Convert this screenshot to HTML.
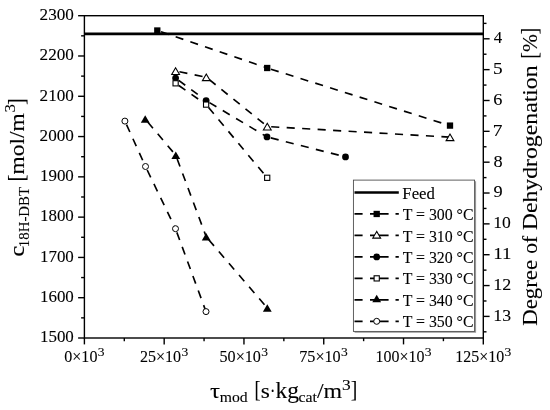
<!DOCTYPE html>
<html lang="en"><head><meta charset="utf-8"><title>Chart</title>
<style>html,body{margin:0;padding:0;background:#fff;}body{width:550px;height:410px;overflow:hidden;}svg{display:block;}text{font-family:"Liberation Serif", serif;fill:#000;stroke:#000;stroke-width:0.1;}</style>
</head><body>
<svg width="550" height="410" viewBox="0 0 550 410">
<rect x="0" y="0" width="550" height="410" fill="#fff"/>
<g stroke="#000" stroke-width="1.40" fill="none" stroke-linecap="butt">
<rect x="84.40" y="15.70" width="398.90" height="322.30"/>
<line x1="78.10" y1="338.00" x2="84.40" y2="338.00"/>
<line x1="78.10" y1="297.71" x2="84.40" y2="297.71"/>
<line x1="78.10" y1="257.43" x2="84.40" y2="257.43"/>
<line x1="78.10" y1="217.14" x2="84.40" y2="217.14"/>
<line x1="78.10" y1="176.85" x2="84.40" y2="176.85"/>
<line x1="78.10" y1="136.56" x2="84.40" y2="136.56"/>
<line x1="78.10" y1="96.28" x2="84.40" y2="96.28"/>
<line x1="78.10" y1="55.99" x2="84.40" y2="55.99"/>
<line x1="78.10" y1="15.70" x2="84.40" y2="15.70"/>
<line x1="81.10" y1="317.86" x2="84.40" y2="317.86"/>
<line x1="81.10" y1="277.57" x2="84.40" y2="277.57"/>
<line x1="81.10" y1="237.28" x2="84.40" y2="237.28"/>
<line x1="81.10" y1="196.99" x2="84.40" y2="196.99"/>
<line x1="81.10" y1="156.71" x2="84.40" y2="156.71"/>
<line x1="81.10" y1="116.42" x2="84.40" y2="116.42"/>
<line x1="81.10" y1="76.13" x2="84.40" y2="76.13"/>
<line x1="81.10" y1="35.84" x2="84.40" y2="35.84"/>
<line x1="84.40" y1="338.00" x2="84.40" y2="344.40"/>
<line x1="164.18" y1="338.00" x2="164.18" y2="344.40"/>
<line x1="243.96" y1="338.00" x2="243.96" y2="344.40"/>
<line x1="323.74" y1="338.00" x2="323.74" y2="344.40"/>
<line x1="403.52" y1="338.00" x2="403.52" y2="344.40"/>
<line x1="483.30" y1="338.00" x2="483.30" y2="344.40"/>
<line x1="124.29" y1="338.00" x2="124.29" y2="341.20"/>
<line x1="204.07" y1="338.00" x2="204.07" y2="341.20"/>
<line x1="283.85" y1="338.00" x2="283.85" y2="341.20"/>
<line x1="363.63" y1="338.00" x2="363.63" y2="341.20"/>
<line x1="443.41" y1="338.00" x2="443.41" y2="341.20"/>
<line x1="483.30" y1="38.80" x2="489.60" y2="38.80"/>
<line x1="483.30" y1="69.64" x2="489.60" y2="69.64"/>
<line x1="483.30" y1="100.49" x2="489.60" y2="100.49"/>
<line x1="483.30" y1="131.33" x2="489.60" y2="131.33"/>
<line x1="483.30" y1="162.18" x2="489.60" y2="162.18"/>
<line x1="483.30" y1="193.02" x2="489.60" y2="193.02"/>
<line x1="483.30" y1="223.87" x2="489.60" y2="223.87"/>
<line x1="483.30" y1="254.71" x2="489.60" y2="254.71"/>
<line x1="483.30" y1="285.56" x2="489.60" y2="285.56"/>
<line x1="483.30" y1="316.40" x2="489.60" y2="316.40"/>
<line x1="483.30" y1="23.38" x2="486.50" y2="23.38"/>
<line x1="483.30" y1="54.22" x2="486.50" y2="54.22"/>
<line x1="483.30" y1="85.07" x2="486.50" y2="85.07"/>
<line x1="483.30" y1="115.91" x2="486.50" y2="115.91"/>
<line x1="483.30" y1="146.76" x2="486.50" y2="146.76"/>
<line x1="483.30" y1="177.60" x2="486.50" y2="177.60"/>
<line x1="483.30" y1="208.44" x2="486.50" y2="208.44"/>
<line x1="483.30" y1="239.29" x2="486.50" y2="239.29"/>
<line x1="483.30" y1="270.13" x2="486.50" y2="270.13"/>
<line x1="483.30" y1="300.98" x2="486.50" y2="300.98"/>
<line x1="483.30" y1="331.82" x2="486.50" y2="331.82"/>
</g>
<line x1="84.40" y1="33.9" x2="483.30" y2="33.9" stroke="#000" stroke-width="2.6"/>
<line x1="157.30" y1="30.50" x2="267.20" y2="68.00" stroke="#000" stroke-width="1.65" stroke-dasharray="8.1 7.4" stroke-dashoffset="-3.9"/>
<line x1="267.20" y1="68.00" x2="450.00" y2="125.60" stroke="#000" stroke-width="1.65" stroke-dasharray="8.1 7.4" stroke-dashoffset="-3.9"/>
<line x1="175.60" y1="71.00" x2="206.30" y2="77.20" stroke="#000" stroke-width="1.65" stroke-dasharray="8.1 7.4" stroke-dashoffset="-3.9"/>
<line x1="206.30" y1="77.20" x2="267.30" y2="126.50" stroke="#000" stroke-width="1.65" stroke-dasharray="8.1 7.4" stroke-dashoffset="-3.9"/>
<line x1="267.30" y1="126.50" x2="450.00" y2="137.20" stroke="#000" stroke-width="1.65" stroke-dasharray="8.1 7.4" stroke-dashoffset="-3.9"/>
<line x1="175.60" y1="78.10" x2="206.10" y2="100.60" stroke="#000" stroke-width="1.65" stroke-dasharray="8.1 7.4" stroke-dashoffset="-3.9"/>
<line x1="206.10" y1="100.60" x2="267.00" y2="136.90" stroke="#000" stroke-width="1.65" stroke-dasharray="8.1 7.4" stroke-dashoffset="-3.9"/>
<line x1="267.00" y1="136.90" x2="345.50" y2="156.90" stroke="#000" stroke-width="1.65" stroke-dasharray="8.1 7.4" stroke-dashoffset="-3.9"/>
<line x1="175.60" y1="83.30" x2="206.10" y2="104.60" stroke="#000" stroke-width="1.65" stroke-dasharray="8.1 7.4" stroke-dashoffset="-3.9"/>
<line x1="206.10" y1="104.60" x2="267.20" y2="177.80" stroke="#000" stroke-width="1.65" stroke-dasharray="8.1 7.4" stroke-dashoffset="-3.9"/>
<line x1="145.20" y1="119.00" x2="175.80" y2="155.30" stroke="#000" stroke-width="1.65" stroke-dasharray="8.1 7.4" stroke-dashoffset="-3.9"/>
<line x1="175.80" y1="155.30" x2="206.20" y2="236.80" stroke="#000" stroke-width="1.65" stroke-dasharray="8.1 7.4" stroke-dashoffset="-3.9"/>
<line x1="206.20" y1="236.80" x2="267.30" y2="308.00" stroke="#000" stroke-width="1.65" stroke-dasharray="8.1 7.4" stroke-dashoffset="-3.9"/>
<line x1="124.90" y1="121.10" x2="145.50" y2="166.50" stroke="#000" stroke-width="1.65" stroke-dasharray="8.1 7.4" stroke-dashoffset="-3.9"/>
<line x1="145.50" y1="166.50" x2="175.50" y2="228.70" stroke="#000" stroke-width="1.65" stroke-dasharray="8.1 7.4" stroke-dashoffset="-3.9"/>
<line x1="175.50" y1="228.70" x2="206.00" y2="311.60" stroke="#000" stroke-width="1.65" stroke-dasharray="8.1 7.4" stroke-dashoffset="-3.9"/>
<rect x="154.15" y="27.35" width="6.30" height="6.30" fill="#000"/>
<rect x="264.05" y="64.85" width="6.30" height="6.30" fill="#000"/>
<rect x="446.85" y="122.45" width="6.30" height="6.30" fill="#000"/>
<polygon points="175.60,67.80 171.70,74.45 179.50,74.45" fill="#fff" stroke="#000" stroke-width="1.1" stroke-linejoin="miter"/>
<polygon points="206.30,74.00 202.40,80.65 210.20,80.65" fill="#fff" stroke="#000" stroke-width="1.1" stroke-linejoin="miter"/>
<polygon points="267.30,123.30 263.40,129.95 271.20,129.95" fill="#fff" stroke="#000" stroke-width="1.1" stroke-linejoin="miter"/>
<polygon points="450.00,134.00 446.10,140.65 453.90,140.65" fill="#fff" stroke="#000" stroke-width="1.1" stroke-linejoin="miter"/>
<circle cx="175.60" cy="78.10" r="3.4" fill="#000"/>
<circle cx="206.10" cy="100.60" r="3.4" fill="#000"/>
<circle cx="267.00" cy="136.90" r="3.4" fill="#000"/>
<circle cx="345.50" cy="156.90" r="3.4" fill="#000"/>
<rect x="173.00" y="80.70" width="5.20" height="5.20" fill="#fff" stroke="#000" stroke-width="1.1"/>
<rect x="203.50" y="102.00" width="5.20" height="5.20" fill="#fff" stroke="#000" stroke-width="1.1"/>
<rect x="264.60" y="175.20" width="5.20" height="5.20" fill="#fff" stroke="#000" stroke-width="1.1"/>
<polygon points="145.20,115.20 140.80,122.70 149.60,122.70" fill="#000"/>
<polygon points="175.80,151.50 171.40,159.00 180.20,159.00" fill="#000"/>
<polygon points="206.20,233.00 201.80,240.50 210.60,240.50" fill="#000"/>
<polygon points="267.30,304.20 262.90,311.70 271.70,311.70" fill="#000"/>
<circle cx="124.90" cy="121.10" r="3.0" fill="#fff" stroke="#000" stroke-width="1"/>
<circle cx="145.50" cy="166.50" r="3.0" fill="#fff" stroke="#000" stroke-width="1"/>
<circle cx="175.50" cy="228.70" r="3.0" fill="#fff" stroke="#000" stroke-width="1"/>
<circle cx="206.00" cy="311.60" r="3.0" fill="#fff" stroke="#000" stroke-width="1"/>
<path d="M475.5 181.2 V332.8 M354.6 332.2 H476.1" fill="none" stroke="#989898" stroke-width="1.2"/>
<rect x="353.4" y="180.1" width="121.2" height="151.3" fill="#fff" stroke="#454545" stroke-width="0.85"/>
<line x1="354.5" y1="192.50" x2="398.8" y2="192.50" stroke="#000" stroke-width="2.6"/>
<text x="402.38" y="198.60" font-size="16" textLength="32.47" lengthAdjust="spacingAndGlyphs">Feed</text>
<path d="M354.5 213.97 H362.6 M370 213.97 H388.6 M395.5 213.97 H398.8" stroke="#000" stroke-width="1.75" fill="none"/>
<rect x="373.55" y="210.82" width="6.30" height="6.30" fill="#000"/>
<text x="402.65" y="220.07" font-size="16" textLength="70.87" lengthAdjust="spacingAndGlyphs">T = 300 °C</text>
<path d="M354.5 235.44 H362.6 M370 235.44 H388.6 M395.5 235.44 H398.8" stroke="#000" stroke-width="1.75" fill="none"/>
<polygon points="376.70,231.44 372.80,238.09 380.60,238.09" fill="#fff" stroke="#000" stroke-width="1.1" stroke-linejoin="miter"/>
<text x="402.65" y="241.54" font-size="16" textLength="70.87" lengthAdjust="spacingAndGlyphs">T = 310 °C</text>
<path d="M354.5 256.91 H362.6 M370 256.91 H388.6 M395.5 256.91 H398.8" stroke="#000" stroke-width="1.75" fill="none"/>
<circle cx="376.70" cy="256.91" r="3.4" fill="#000"/>
<text x="402.65" y="263.01" font-size="16" textLength="70.87" lengthAdjust="spacingAndGlyphs">T = 320 °C</text>
<path d="M354.5 278.38 H362.6 M370 278.38 H388.6 M395.5 278.38 H398.8" stroke="#000" stroke-width="1.75" fill="none"/>
<rect x="374.10" y="275.78" width="5.20" height="5.20" fill="#fff" stroke="#000" stroke-width="1.1"/>
<text x="402.65" y="284.48" font-size="16" textLength="70.87" lengthAdjust="spacingAndGlyphs">T = 330 °C</text>
<path d="M354.5 299.85 H362.6 M370 299.85 H388.6 M395.5 299.85 H398.8" stroke="#000" stroke-width="1.75" fill="none"/>
<polygon points="376.70,294.85 372.30,302.35 381.10,302.35" fill="#000"/>
<text x="402.65" y="305.95" font-size="16" textLength="70.87" lengthAdjust="spacingAndGlyphs">T = 340 °C</text>
<path d="M354.5 321.32 H362.6 M370 321.32 H388.6 M395.5 321.32 H398.8" stroke="#000" stroke-width="1.75" fill="none"/>
<circle cx="376.70" cy="321.32" r="3.0" fill="#fff" stroke="#000" stroke-width="1"/>
<text x="402.65" y="327.42" font-size="16" textLength="70.87" lengthAdjust="spacingAndGlyphs">T = 350 °C</text>
<text x="39.95" y="342.30" font-size="17.6" textLength="33.91" lengthAdjust="spacingAndGlyphs">1500</text>
<text x="39.95" y="302.01" font-size="17.6" textLength="33.91" lengthAdjust="spacingAndGlyphs">1600</text>
<text x="39.95" y="261.73" font-size="17.6" textLength="33.91" lengthAdjust="spacingAndGlyphs">1700</text>
<text x="39.95" y="221.44" font-size="17.6" textLength="33.91" lengthAdjust="spacingAndGlyphs">1800</text>
<text x="39.95" y="181.15" font-size="17.6" textLength="33.91" lengthAdjust="spacingAndGlyphs">1900</text>
<text x="39.57" y="140.86" font-size="17.6" textLength="34.30" lengthAdjust="spacingAndGlyphs">2000</text>
<text x="39.57" y="100.58" font-size="17.6" textLength="34.30" lengthAdjust="spacingAndGlyphs">2100</text>
<text x="39.57" y="60.29" font-size="17.6" textLength="34.30" lengthAdjust="spacingAndGlyphs">2200</text>
<text x="39.57" y="20.00" font-size="17.6" textLength="34.30" lengthAdjust="spacingAndGlyphs">2300</text>
<text x="493.74" y="43.20" font-size="17.6" textLength="8.44" lengthAdjust="spacingAndGlyphs">4</text>
<text x="493.01" y="74.04" font-size="17.6" textLength="9.63" lengthAdjust="spacingAndGlyphs">5</text>
<text x="493.32" y="104.89" font-size="17.6" textLength="9.15" lengthAdjust="spacingAndGlyphs">6</text>
<text x="492.87" y="135.73" font-size="17.6" textLength="9.63" lengthAdjust="spacingAndGlyphs">7</text>
<text x="493.45" y="166.58" font-size="17.6" textLength="9.15" lengthAdjust="spacingAndGlyphs">8</text>
<text x="493.45" y="197.42" font-size="17.6" textLength="9.15" lengthAdjust="spacingAndGlyphs">9</text>
<text x="493.30" y="228.27" font-size="17.6" textLength="17.59" lengthAdjust="spacingAndGlyphs">10</text>
<text x="493.18" y="259.11" font-size="17.6" textLength="18.28" lengthAdjust="spacingAndGlyphs">11</text>
<text x="493.26" y="289.96" font-size="17.6" textLength="18.03" lengthAdjust="spacingAndGlyphs">12</text>
<text x="493.29" y="320.80" font-size="17.6" textLength="17.74" lengthAdjust="spacingAndGlyphs">13</text>
<text x="64.30" y="362.00" font-size="16.8" textLength="33.11" lengthAdjust="spacingAndGlyphs">0×10</text>
<text x="97.69" y="356.40" font-size="12" textLength="6.77" lengthAdjust="spacingAndGlyphs">3</text>
<text x="140.01" y="362.00" font-size="16.8" textLength="41.14" lengthAdjust="spacingAndGlyphs">25×10</text>
<text x="181.42" y="356.40" font-size="12" textLength="6.77" lengthAdjust="spacingAndGlyphs">3</text>
<text x="219.55" y="362.00" font-size="16.8" textLength="41.39" lengthAdjust="spacingAndGlyphs">50×10</text>
<text x="261.20" y="356.40" font-size="12" textLength="6.77" lengthAdjust="spacingAndGlyphs">3</text>
<text x="299.20" y="362.00" font-size="16.8" textLength="41.52" lengthAdjust="spacingAndGlyphs">75×10</text>
<text x="340.98" y="356.40" font-size="12" textLength="6.77" lengthAdjust="spacingAndGlyphs">3</text>
<text x="375.59" y="362.00" font-size="16.8" textLength="48.86" lengthAdjust="spacingAndGlyphs">100×10</text>
<text x="424.71" y="356.40" font-size="12" textLength="6.77" lengthAdjust="spacingAndGlyphs">3</text>
<text x="455.37" y="362.00" font-size="16.8" textLength="48.86" lengthAdjust="spacingAndGlyphs">125×10</text>
<text x="504.49" y="356.40" font-size="12" textLength="6.77" lengthAdjust="spacingAndGlyphs">3</text>
<text x="210.03" y="397.80" font-size="22" textLength="9.99" lengthAdjust="spacingAndGlyphs">τ</text>
<text x="219.72" y="402.30" font-size="14" textLength="27.94" lengthAdjust="spacingAndGlyphs">mod</text>
<text x="254.57" y="397.30" font-size="24" textLength="6.10" lengthAdjust="spacingAndGlyphs">[</text>
<text x="260.87" y="397.80" font-size="22" textLength="9.09" lengthAdjust="spacingAndGlyphs">s</text>
<text x="269.88" y="397.80" font-size="22" textLength="5.30" lengthAdjust="spacingAndGlyphs">·</text>
<text x="275.51" y="397.80" font-size="22.4" textLength="23.50" lengthAdjust="spacingAndGlyphs">kg</text>
<text x="298.53" y="402.20" font-size="14" textLength="18.45" lengthAdjust="spacingAndGlyphs">cat</text>
<text x="316.90" y="397.80" font-size="22" textLength="25.19" lengthAdjust="spacingAndGlyphs">/m</text>
<text x="342.03" y="389.80" font-size="15" textLength="8.69" lengthAdjust="spacingAndGlyphs">3</text>
<text x="350.78" y="397.30" font-size="24" textLength="6.55" lengthAdjust="spacingAndGlyphs">]</text>
<g transform="translate(536.9 325.2) rotate(-90)">
<text x="-0.66" y="0.00" font-size="21.5" textLength="66.01" lengthAdjust="spacingAndGlyphs">Degree</text>
<text x="71.43" y="0.00" font-size="21.5" textLength="17.82" lengthAdjust="spacingAndGlyphs">of</text>
<text x="95.01" y="0.00" font-size="21.5" textLength="164.82" lengthAdjust="spacingAndGlyphs">Dehydrogenation</text>
<text x="266.33" y="0.30" font-size="23.5" textLength="6.56" lengthAdjust="spacingAndGlyphs">[</text>
<text x="273.25" y="0.00" font-size="21.5" textLength="17.84" lengthAdjust="spacingAndGlyphs">%</text>
<text x="290.75" y="0.30" font-size="23.5" textLength="6.71" lengthAdjust="spacingAndGlyphs">]</text>
</g>
<g transform="translate(23.5 255.7) rotate(-90)">
<text x="-1.00" y="0.00" font-size="22" textLength="11.13" lengthAdjust="spacingAndGlyphs">c</text>
<text x="8.52" y="5.80" font-size="14.5" textLength="60.20" lengthAdjust="spacingAndGlyphs">18H-DBT</text>
<text x="74.27" y="0.60" font-size="24" textLength="7.00" lengthAdjust="spacingAndGlyphs">[</text>
<text x="81.27" y="0.00" font-size="22" textLength="61.28" lengthAdjust="spacingAndGlyphs">mol/m</text>
<text x="143.16" y="-8.50" font-size="15" textLength="8.45" lengthAdjust="spacingAndGlyphs">3</text>
<text x="150.68" y="0.60" font-size="24" textLength="6.55" lengthAdjust="spacingAndGlyphs">]</text>
</g>
</svg>
</body></html>
